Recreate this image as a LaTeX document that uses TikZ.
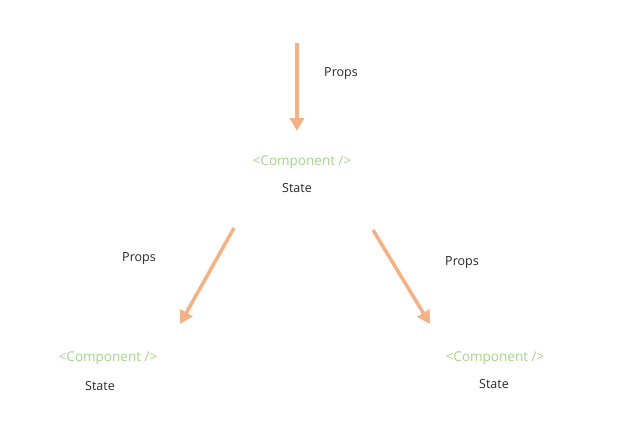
\documentclass[tikz,border=0pt]{standalone}
\usepackage{fontspec}
\setmainfont{Open Sans}
\usetikzlibrary{arrows.meta}
\definecolor{arr}{HTML}{F4B183}
\definecolor{comp}{HTML}{A9D18E}
\tikzset{
  flow/.style={draw=arr, line width=3.5pt, -{Triangle[width=14pt,length=13pt]}},
  lbl/.style={font=\fontsize{12.5}{14}\selectfont, text=black!85},
  cmp/.style={font=\fontsize{13.5}{15}\selectfont, text=comp},
}
\begin{document}
\begin{tikzpicture}[x=1pt,y=-1pt]
\useasboundingbox (0,0) rectangle (637,445);
\fill[white] (0,0) rectangle (637,445);
\coordinate (t0) at (297,43); \coordinate (t1) at (297,131);
\coordinate (l0) at (234,228); \coordinate (l1) at (180,324);
\coordinate (r0) at (373,230); \coordinate (r1) at (430,324);
\draw[flow] (t0) -- (t1);
\draw[flow] (l0) -- (l1);
\draw[flow] (r0) -- (r1);
\node[lbl] (p1) at (341,74) {Props};
\node[cmp] (c1) at (302,162) {<Component />};
\node[lbl] (s1) at (297,188) {State};
\node[lbl] (p2) at (139,259) {Props};
\node[lbl] (p3) at (462,263) {Props};
\node[cmp] (c2) at (108,358) {<Component />};
\node[lbl] (s2) at (100,386) {State};
\node[cmp] (c3) at (495,358) {<Component />};
\node[lbl] (s3) at (494,384) {State};
\end{tikzpicture}
\end{document}
